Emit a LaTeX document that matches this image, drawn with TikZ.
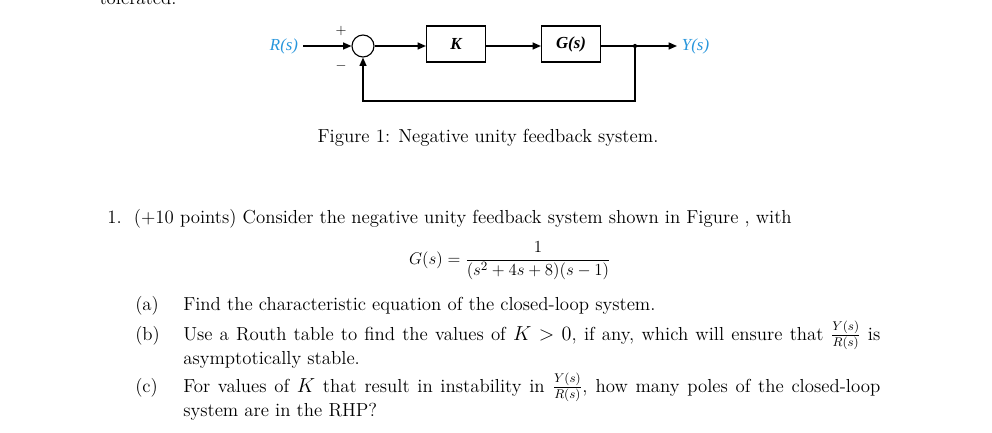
\documentclass[tikz,border=0pt]{standalone}
\usepackage{amsmath}
\usepackage{fontspec}
\newfontfamily\tnr{Liberation Serif}
\usetikzlibrary{arrows.meta}
\definecolor{lblue}{RGB}{40,150,220}
\newcommand\bodyfont{\fontsize{13.4}{15.6}\selectfont}
\begin{document}
\begin{tikzpicture}[x=0.025cm,y=-0.025cm,
  blk/.style={draw,line width=0.8pt,minimum width=59*0.025cm,minimum height=36*0.025cm,inner sep=0pt,font=\tnr\bfseries\itshape\large},
  sig/.style={line width=1pt,-{Triangle[length=6pt,width=5pt]}},
  lab/.style={font=\tnr\itshape\large,text=lblue},
  txt/.style={anchor=base west,font=\bodyfont,inner sep=0pt}]
\useasboundingbox (0,0) rectangle (992,433);
\node[anchor=base,font=\bodyfont,inner sep=0pt] (tol) at (138,5) {tolerated.};
\node[lab] (R) at (284,46) {R(s)};
\node[draw,circle,line width=0.8pt,minimum size=22*0.025cm,inner sep=0pt] (sum) at (363,46) {};
\node[blk] (K) at (456,44) {K};
\node[blk] (G) at (571,44) {G(s)};
\coordinate (j) at (635,46);
\node[lab,anchor=west] (Y) at (677,46) {Y(s)};
\coordinate (fb) at (635,101);
\coordinate (fb2) at (363,101);
\draw[sig] (R.east) -- (sum.west);
\draw[sig] (sum.east) -- (K.west|-sum);
\draw[sig] (K.east|-sum) -- (G.west|-sum);
\draw[sig] (G.east|-sum) -- (Y.west);
\fill (j) circle (1.5pt);
\draw[sig] (j) -- (fb) -- (fb2) -- (sum.south);
\node (plus) at (341,31) {$+$};
\node (minus) at (341,66) {$-$};
\node[anchor=base,font=\bodyfont,inner sep=0pt] (cap) at (488,142) {Figure 1: Negative unity feedback system.};
\node[txt] (q1) at (107,223) {1.\ \ (+10 points) Consider the negative unity feedback system shown in Figure , with};
\node[font=\fontsize{12.4}{15}\selectfont,inner sep=0pt] (eq) at (510,261) {$\displaystyle G(s)=\frac{1}{(s^2+4s+8)(s-1)}$};
\node[txt] (la) at (135,310) {(a)};
\node[txt] (ta) at (183,310) {Find the characteristic equation of the closed-loop system.};
\node[txt] (lb) at (135,340) {(b)};
\node[txt] (tb) at (183,340) {\parbox[t]{697\dimexpr0.025cm\relax}{\bodyfont Use a Routh table to find the values of $K>0$, if any, which will ensure that $\frac{Y(s)}{R(s)}$ is asymptotically stable.}};
\node[txt] (lc) at (135,392) {(c)};
\node[txt] (tc) at (183,392) {\parbox[t]{697\dimexpr0.025cm\relax}{\bodyfont For values of $K$ that result in instability in $\frac{Y(s)}{R(s)}$, how many poles of the closed-loop system are in the RHP?}};
\end{tikzpicture}
\end{document}
